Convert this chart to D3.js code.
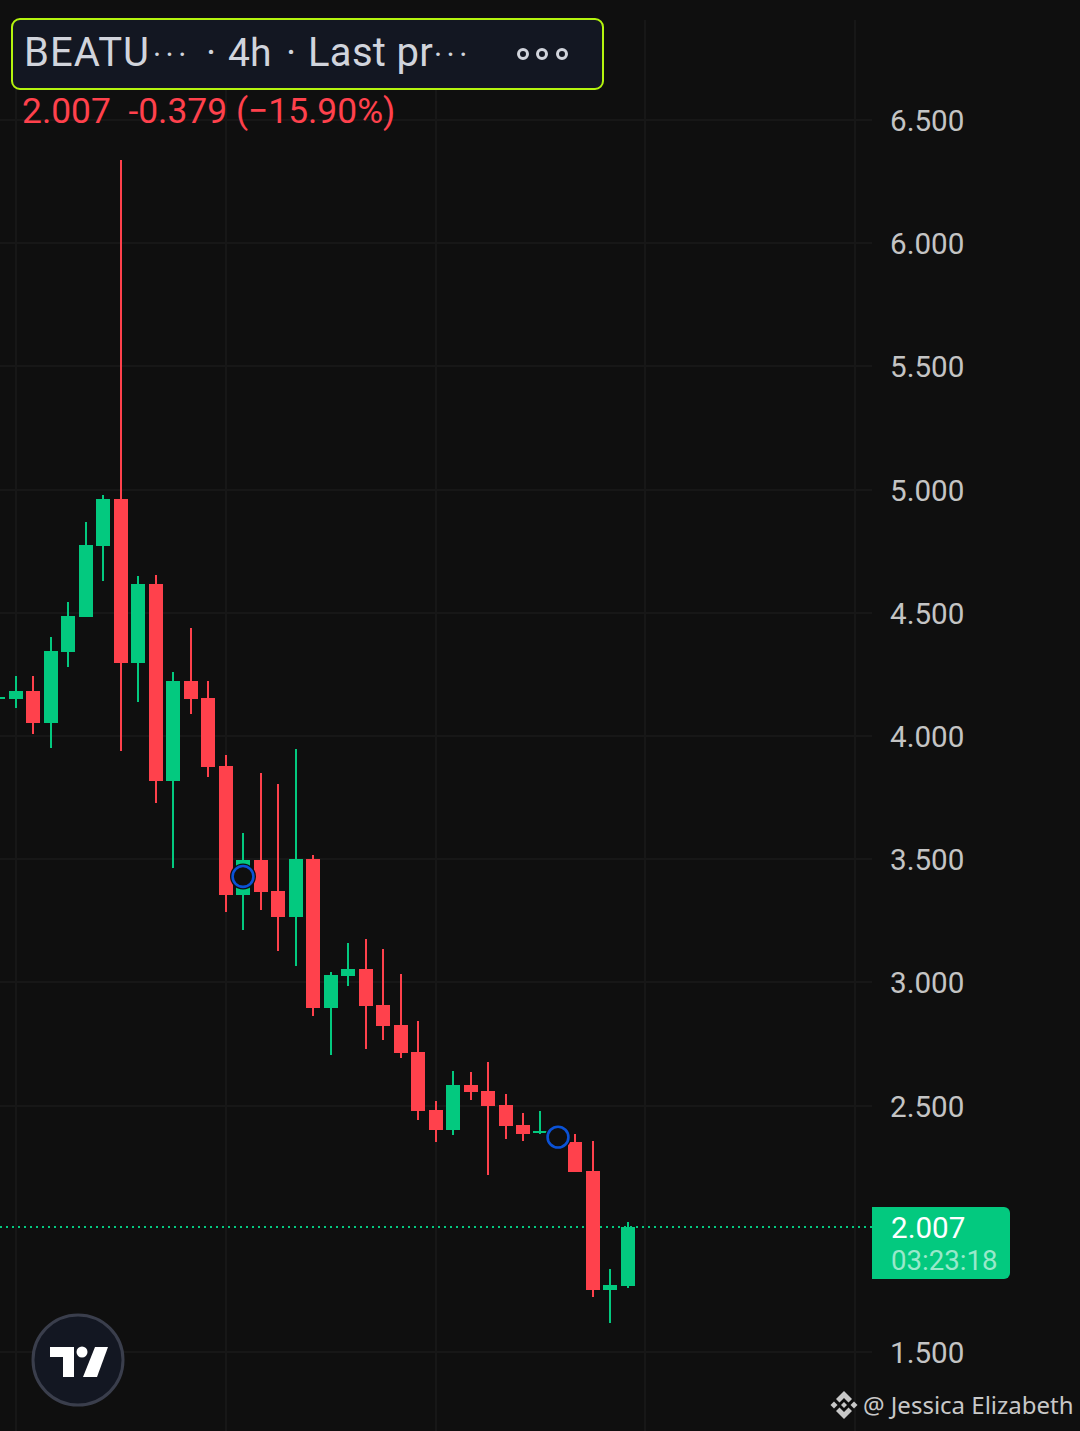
<!DOCTYPE html>
<html>
<head>
  <meta charset="utf-8">
  <title>BEATUSDT 4h</title>
  <style>
   html, body { margin: 0; padding: 0; background: #0f0f0f; }
   svg { display: block; }
   text { font-family: Roboto, sans-serif; }
   .axis path { display: none; }
   .axis line { stroke: #171717; stroke-width: 2px; shape-rendering: crispEdges; }
   .axis text { fill: #c4c4c4; font-size: 29.6px; }
 </style>
  <script src="https://d3js.org/d3.v7.min.js"></script>
</head>
<body>
  <div id="chart"></div>
  <script>
// candles, oldest first. the first one is cut off by the left edge
var candleIndex = d3.range(-1, 36);
var opens  = [4.150, 4.150, 4.183, 4.053, 4.341, 4.483, 4.771, 4.962, 4.296, 4.617, 3.817, 4.223, 4.154, 3.878, 3.355, 3.497, 3.371, 3.265, 3.501, 2.896, 3.026, 3.054, 2.908, 2.827, 2.718, 2.482, 2.401, 2.584, 2.559, 2.502, 2.421, 2.389, 2.389, 2.352, 2.235, 1.752, 1.768];
var highs  = [4.158, 4.244, 4.244, 4.402, 4.544, 4.869, 4.978, 6.338, 4.649, 4.653, 4.260, 4.438, 4.223, 3.923, 3.606, 3.850, 3.805, 3.947, 3.517, 3.042, 3.160, 3.176, 3.136, 3.034, 2.843, 2.519, 2.640, 2.636, 2.677, 2.547, 2.470, 2.478, 2.409, 2.385, 2.356, 1.837, 2.028];
var lows   = [4.150, 4.114, 4.008, 3.951, 4.280, 4.483, 4.629, 3.939, 4.138, 3.728, 3.464, 4.089, 3.834, 3.286, 3.213, 3.294, 3.127, 3.067, 2.864, 2.705, 2.985, 2.730, 2.766, 2.693, 2.442, 2.352, 2.381, 2.523, 2.218, 2.364, 2.356, 2.385, 2.320, 2.231, 1.723, 1.618, 1.760];
var closes = [4.158, 4.183, 4.053, 4.345, 4.487, 4.775, 4.962, 4.296, 4.617, 3.817, 4.223, 4.150, 3.874, 3.355, 3.497, 3.367, 3.265, 3.501, 2.896, 3.030, 3.054, 2.904, 2.823, 2.714, 2.478, 2.401, 2.584, 2.555, 2.498, 2.417, 2.385, 2.397, 2.348, 2.231, 1.752, 1.772, 2.007];

var priceTicks = [6.5, 6, 5.5, 5, 4.5, 4, 3.5, 3, 2.5, 1.5];
var gridIndex = [0, 12, 24, 36, 48];

// blue event markers
var markerIndex = [13, 31];
var markerPrice = [3.43, 2.372];

var lastPrice = 2.007;
var countdown = "03:23:18";
var changeText = "2.007  -0.379 (\u221215.90%)";

var width = 1080, height = 1431;
var green = "#03c97f", red = "#ff414c", bg = "#0f0f0f";

var x = d3.scaleLinear().domain([0, 48]).range([15.85, 855.25]);
var y = d3.scaleLinear().domain([6.5, 1.5]).range([120, 1352]);

var svg = d3.select("#chart").append("svg")
  .attr("width", width)
  .attr("height", height);

svg.append("rect").attr("width", width).attr("height", height).attr("fill", bg);

// grid and price axis
var yAxis = d3.axisRight(y)
  .tickValues(priceTicks)
  .tickSize(872)
  .tickPadding(18)
  .offset(0)
  .tickFormat(d3.format(".3f"));
svg.append("g").attr("class", "axis").call(yAxis)
  .selectAll("text").attr("dy", "0.37em");

svg.append("g").selectAll("line")
  .data(gridIndex)
  .enter()
  .append("line")
  .attr("x1", function(d) { return Math.round(x(d)); })
  .attr("x2", function(d) { return Math.round(x(d)); })
  .attr("y1", 20)
  .attr("y2", height)
  .attr("stroke", "#171717")
  .attr("stroke-width", 2)
  .attr("shape-rendering", "crispEdges");

// last price line
svg.append("line")
  .attr("x1", 0).attr("x2", 872)
  .attr("y1", y(lastPrice)).attr("y2", y(lastPrice))
  .attr("stroke", green)
  .attr("stroke-width", 2)
  .attr("stroke-dasharray", "2,4")
  .attr("shape-rendering", "crispEdges");

// candles
var candle = svg.append("g").selectAll("g")
  .data(candleIndex)
  .enter()
  .append("g")
  .attr("shape-rendering", "crispEdges")
  .attr("fill", function(d, i) { return closes[i] >= opens[i] ? green : red; });

candle.append("rect")
  .attr("x", function(d) { return Math.round(x(d)) - 1; })
  .attr("width", 2)
  .attr("y", function(d, i) { return y(highs[i]); })
  .attr("height", function(d, i) { return y(lows[i]) - y(highs[i]); });

candle.append("rect")
  .attr("x", function(d) { return Math.round(x(d)) - 7; })
  .attr("width", 14)
  .attr("y", function(d, i) { return y(Math.max(opens[i], closes[i])); })
  .attr("height", function(d, i) { return Math.abs(y(opens[i]) - y(closes[i])); });

// markers, with a dark halo behind the ring
var marker = svg.append("g").selectAll("g")
  .data(markerIndex)
  .enter()
  .append("g")
  .attr("transform", function(d, i) { return "translate(" + Math.round(x(d)) + "," + y(markerPrice[i]) + ")"; });
marker.append("circle").attr("r", 13).attr("fill", bg);
marker.append("circle")
  .attr("r", 10.4)
  .attr("fill", bg)
  .attr("stroke", "#0b52d6")
  .attr("stroke-width", 2.6);

// price label
svg.append("path")
  .attr("d", "M872,1207H1004a6,6 0 0 1 6,6V1273a6,6 0 0 1 -6,6H872Z")
  .attr("fill", green);
svg.append("text")
  .attr("x", 891).attr("y", 1238)
  .attr("fill", "#fff")
  .style("font-size", "29.6px")
  .text(d3.format(".3f")(lastPrice));
svg.append("text")
  .attr("x", 891).attr("y", 1270)
  .attr("fill", "#fff")
  .attr("fill-opacity", 0.6)
  .style("font-size", "27.6px")
  .text(countdown);

// header
svg.append("rect")
  .attr("x", 12).attr("y", 19)
  .attr("width", 591).attr("height", 70)
  .attr("rx", 8)
  .attr("fill", "#131722")
  .attr("stroke", "#b4f40e")
  .attr("stroke-width", 2);

var headerBits = [
  {t: "BEATU", x: 24, s: 40, k: 1},
  {t: "\u00b7\u00b7\u00b7", x: 153, s: 31, k: 4.5},
  {t: "\u00b7", x: 206, s: 39, k: 0},
  {t: "4h", x: 228, s: 39, k: 0},
  {t: "\u00b7", x: 286, s: 39, k: 0},
  {t: "Last pr", x: 308, s: 40, k: 0.3},
  {t: "\u00b7\u00b7\u00b7", x: 434, s: 31, k: 4.5}
];
svg.append("g").selectAll("text")
  .data(headerBits)
  .enter()
  .append("text")
  .attr("x", function(d) { return d.x; })
  .attr("y", 66)
  .attr("fill", "#d1d4dc")
  .style("font-size", function(d) { return d.s + "px"; })
  .style("letter-spacing", function(d) { return d.k + "px"; })
  .text(function(d) { return d.t; });

svg.append("g").selectAll("circle")
  .data([523, 542, 562])
  .enter()
  .append("circle")
  .attr("cx", function(d) { return d; })
  .attr("cy", 54)
  .attr("r", 4.5)
  .attr("fill", "none")
  .attr("stroke", "#d1d4dc")
  .attr("stroke-width", 3);

svg.append("text")
  .attr("x", 22).attr("y", 123)
  .attr("fill", red)
  .style("white-space", "pre")
  .style("font-size", "35.4px")
  .text(changeText);

// tradingview badge
var logo = svg.append("g").attr("transform", "translate(78,1360)");
logo.append("circle").attr("r", 45).attr("fill", "#131722").attr("stroke", "#3a3e4c").attr("stroke-width", 3);
logo.append("path").attr("d", "M-28,-13H-4V17H-15V-3H-28Z").attr("fill", "#fff");
logo.append("circle").attr("cx", 4).attr("cy", -8).attr("r", 5.5).attr("fill", "#fff");
logo.append("path").attr("d", "M17,-13H30L19,17H5Z").attr("fill", "#fff");

// watermark
var mark = svg.append("g").attr("transform", "translate(844,1405)").attr("fill", "#c8c8c8");
mark.append("path").attr("d", "M0,-14L8,-6L4.5,-2.5L0,-7L-4.5,-2.5L-8,-6Z");
mark.append("path").attr("d", "M0,14L8,6L4.5,2.5L0,7L-4.5,2.5L-8,6Z");
mark.append("path").attr("d", "M-10,-3.5L-6.5,0L-10,3.5L-13.5,0Z");
mark.append("path").attr("d", "M10,-3.5L13.5,0L10,3.5L6.5,0Z");
mark.append("path").attr("d", "M0,-3L3,0L0,3L-3,0Z");

svg.append("text")
  .attr("x", 863).attr("y", 1414)
  .attr("fill", "#c8c8c8")
  .style("font-family", "'Noto Sans'")
  .style("font-size", "24px")
  .text("@ Jessica Elizabeth");
  </script>
</body>
</html>
